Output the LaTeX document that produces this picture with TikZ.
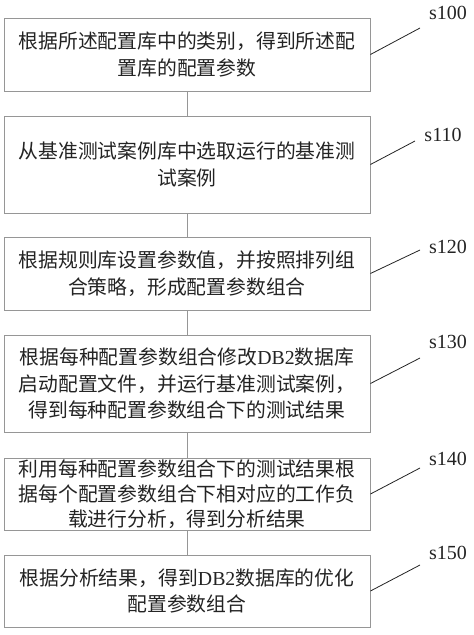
\documentclass[tikz,border=0pt]{standalone}
\usepackage{fontspec}
\usepackage{xcolor}
\usepackage{tikz}
\usetikzlibrary{positioning}
\setmainfont{Liberation Serif}
\newfontfamily\cjk{Noto Sans CJK SC}
\definecolor{boxgray}{RGB}{150, 150, 150}
\definecolor{inkgray}{RGB}{35, 35, 35}

\begin{document}
\begin{tikzpicture}[
    x=1pt, y=-1pt,
    stepbox/.style={
        rectangle,
        draw=boxgray,
        line width=0.9pt,
        minimum width=366pt,
        inner sep=0pt,
        align=center,
        text=inkgray,
        font=\cjk\fontsize{19.8}{26.5}\selectfont
    },
    link/.style={draw=boxgray, line width=0.9pt},
    tag/.style={text=inkgray, font=\fontsize{20}{24}\selectfont},
    tagline/.style={draw=inkgray, line width=0.8pt}
]
    \useasboundingbox (0, 0) rectangle (474, 635);

    % Steps
    \node[stepbox, minimum height=73pt] (s100) at (187, 54.5) {
        根据所述配置库中的类别，得到所述配\\
        置库的配置参数
    };
    \node[stepbox, minimum height=97pt] (s110) at (187, 164.5) {
        从基准测试案例库中选取运行的基准测\\
        试案例
    };
    \node[stepbox, minimum height=73pt] (s120) at (187, 273.5) {
        根据规则库设置参数值，并按照排列组\\
        合策略，形成配置参数组合
    };
    \node[stepbox, minimum height=97pt] (s130) at (187, 383.5) {
        根据每种配置参数组合修改{\rmfamily DB2}数据库\\
        启动配置文件，并运行基准测试案例，\\
        得到每种配置参数组合下的测试结果
    };
    \node[stepbox, minimum height=72pt,
          font=\cjk\fontsize{19.8}{25}\selectfont] (s140) at (187, 494) {
        利用每种配置参数组合下的测试结果根\\
        据每个配置参数组合下相对应的工作负\\
        载进行分析，得到分析结果
    };
    \node[stepbox, minimum height=72pt] (s150) at (187, 591) {
        根据分析结果，得到{\rmfamily DB2}数据库的优化\\
        配置参数组合
    };

    % Links between steps
    \draw[link] (s100) -- (s110);
    \draw[link] (s110) -- (s120);
    \draw[link] (s120) -- (s130);
    \draw[link] (s130) -- (s140);
    \draw[link] (s140) -- (s150);

    % Step labels
    \coordinate (e100) at (420, 28);
    \coordinate (e110) at (415, 141);
    \coordinate (e120) at (420, 250);
    \coordinate (e130) at (420, 358);
    \coordinate (e140) at (420, 468);
    \coordinate (e150) at (420, 565);

    \draw[tagline] (s100.east) -- (e100);
    \draw[tagline] (s110.east) -- (e110);
    \draw[tagline] (s120.east) -- (e120);
    \draw[tagline] (s130.east) -- (e130);
    \draw[tagline] (s140.east) -- (e140);
    \draw[tagline] (s150.east) -- (e150);

    \node[tag] (l100) at (448, 13) {s100};
    \node[tag] (l110) at (443, 135) {s110};
    \node[tag] (l120) at (448, 247) {s120};
    \node[tag] (l130) at (448, 342) {s130};
    \node[tag] (l140) at (448, 459) {s140};
    \node[tag] (l150) at (448, 553) {s150};
\end{tikzpicture}
\end{document}
